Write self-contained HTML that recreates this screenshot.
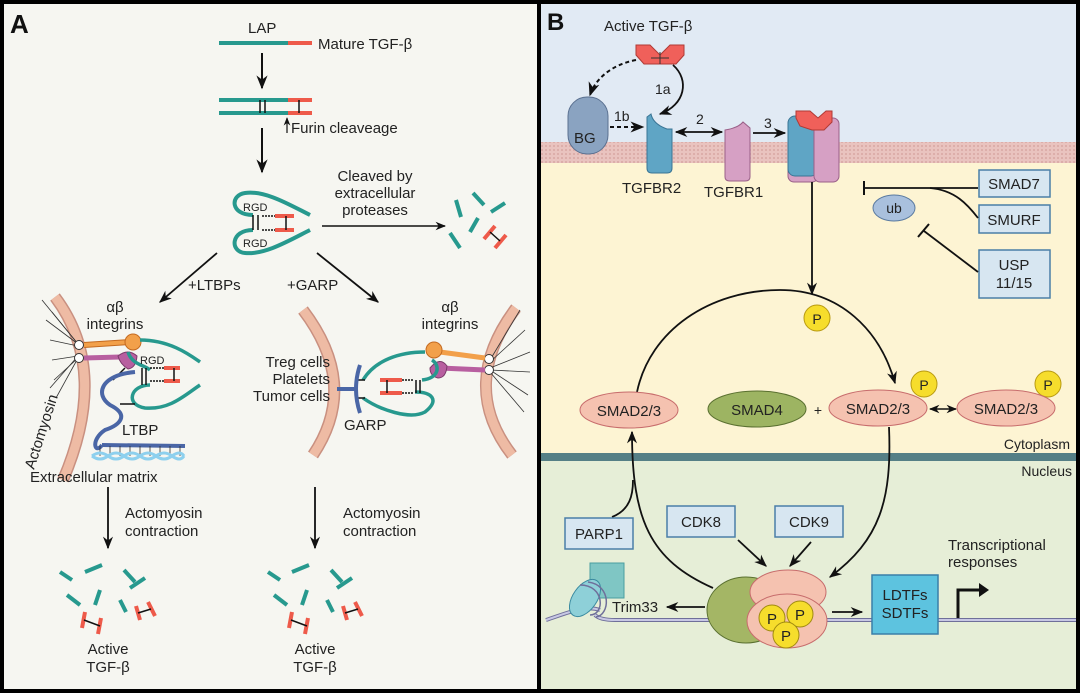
<!DOCTYPE html>
<html><head><meta charset="utf-8"><style>
html,body{margin:0;padding:0;background:#000}
svg{display:block}
text{font-family:"Liberation Sans",sans-serif;fill:#222}
</style></head><body>
<svg width="1080" height="693" viewBox="0 0 1080 693" xmlns="http://www.w3.org/2000/svg">
<defs>
<marker id="ah" viewBox="0 0 10 10" refX="9" refY="5" markerWidth="7" markerHeight="7" orient="auto-start-reverse"><path d="M0,1 L10,5 L0,9 L3,5z" fill="#111"/></marker>
<pattern id="mem" width="4" height="4" patternUnits="userSpaceOnUse"><rect width="4" height="4" fill="#e9c3bf"/><circle cx="2" cy="2" r="1" fill="#d9a7a4"/></pattern>
</defs>
<rect width="1080" height="693" fill="#000"/>
<rect x="4" y="4" width="533" height="685" fill="#f6f6f1"/>
<rect x="541" y="4" width="535" height="138" fill="#e1eaf4"/>
<rect x="541" y="142" width="535" height="21" fill="url(#mem)"/>
<rect x="541" y="163" width="535" height="290" fill="#fdf4d3"/>
<rect x="541" y="453" width="535" height="8" fill="#557f86"/>
<rect x="541" y="461" width="535" height="228" fill="#e6eed7"/>

<!-- ===== Panel A ===== -->
<text x="10" y="33" font-size="26" font-weight="bold" style="fill:#111">A</text>
<text x="248" y="33" font-size="15">LAP</text>
<line x1="219" y1="43" x2="288" y2="43" stroke="#27998e" stroke-width="4"/>
<line x1="288" y1="43" x2="312" y2="43" stroke="#ee5a4a" stroke-width="4"/>
<text x="318" y="49" font-size="15">Mature TGF-β</text>
<line x1="262" y1="53" x2="262" y2="88" stroke="#111" stroke-width="2" marker-end="url(#ah)"/>
<line x1="219" y1="100" x2="288" y2="100" stroke="#27998e" stroke-width="4"/>
<line x1="288" y1="100" x2="312" y2="100" stroke="#ee5a4a" stroke-width="4"/>
<line x1="219" y1="113" x2="288" y2="113" stroke="#27998e" stroke-width="4"/>
<line x1="288" y1="113" x2="312" y2="113" stroke="#ee5a4a" stroke-width="4"/>
<line x1="260" y1="100" x2="260" y2="113" stroke="#111" stroke-width="1.5"/>
<line x1="265" y1="100" x2="265" y2="113" stroke="#111" stroke-width="1.5"/>
<line x1="299" y1="100" x2="299" y2="113" stroke="#111" stroke-width="1.5"/>
<line x1="287" y1="133" x2="287" y2="118" stroke="#111" stroke-width="1.2" marker-end="url(#ah)"/>
<text x="291" y="133" font-size="15">Furin cleaveage</text>
<line x1="262" y1="128" x2="262" y2="172" stroke="#111" stroke-width="2" marker-end="url(#ah)"/>
<path d="M253,215 C230,215 230,195 245,193 C265,190 290,205 310,215" fill="none" stroke="#27998e" stroke-width="4"/>
<path d="M253,230 C230,230 230,252 245,253 C265,255 290,240 310,230" fill="none" stroke="#27998e" stroke-width="4"/>
<text x="243" y="211" font-size="11">RGD</text>
<text x="243" y="247" font-size="11">RGD</text>
<line x1="253" y1="215" x2="253" y2="230" stroke="#111" stroke-width="1.5"/>
<line x1="258" y1="215" x2="258" y2="230" stroke="#111" stroke-width="1.5"/>
<line x1="262" y1="216" x2="275" y2="216" stroke="#111" stroke-width="1.5" stroke-dasharray="2,1"/>
<line x1="262" y1="230" x2="275" y2="230" stroke="#111" stroke-width="1.5" stroke-dasharray="2,1"/>
<line x1="275" y1="216" x2="294" y2="216" stroke="#ee5a4a" stroke-width="4"/>
<line x1="275" y1="230" x2="294" y2="230" stroke="#ee5a4a" stroke-width="4"/>
<line x1="286" y1="216" x2="286" y2="230" stroke="#111" stroke-width="1.5"/>
<text x="375" y="181" font-size="15" text-anchor="middle">Cleaved by</text>
<text x="375" y="198" font-size="15" text-anchor="middle">extracellular</text>
<text x="375" y="215" font-size="15" text-anchor="middle">proteases</text>
<line x1="322" y1="226" x2="445" y2="226" stroke="#111" stroke-width="1.5" marker-end="url(#ah)"/>
<g stroke="#27998e" stroke-width="4"><line x1="456" y1="200" x2="461" y2="217"/><line x1="473" y1="193" x2="484" y2="205"/><line x1="491" y1="212" x2="505" y2="203"/><line x1="478" y1="218" x2="470" y2="232"/><line x1="450" y1="233" x2="460" y2="248"/></g>
<g stroke="#ee5a4a" stroke-width="4"><line x1="484" y1="239" x2="495" y2="226"/><line x1="495" y1="248" x2="506" y2="235"/></g>
<line x1="490" y1="232" x2="500" y2="241" stroke="#111" stroke-width="1.5"/>
<line x1="217" y1="253" x2="160" y2="302" stroke="#111" stroke-width="1.8" marker-end="url(#ah)"/>
<line x1="317" y1="253" x2="378" y2="302" stroke="#111" stroke-width="1.8" marker-end="url(#ah)"/>
<text x="188" y="290" font-size="15">+LTBPs</text>
<text x="287" y="290" font-size="15">+GARP</text>
<!-- left complex -->
<path d="M55,297 Q110,370 63,480" fill="none" stroke="#c99080" stroke-width="12"/>
<path d="M55,297 Q110,370 63,480" fill="none" stroke="#eebba4" stroke-width="9"/>
<g stroke="#333" stroke-width="0.8">
<line x1="78" y1="344" x2="42" y2="300"/><line x1="78" y1="344" x2="46" y2="320"/><line x1="78" y1="346" x2="50" y2="340"/><line x1="78" y1="356" x2="52" y2="360"/><line x1="78" y1="358" x2="54" y2="380"/><line x1="78" y1="358" x2="56" y2="398"/><line x1="78" y1="344" x2="52" y2="312"/><line x1="78" y1="356" x2="50" y2="388"/>
</g>
<circle cx="79" cy="345" r="4.5" fill="#fff" stroke="#333"/>
<circle cx="79" cy="358" r="4.5" fill="#fff" stroke="#333"/>
<text x="115" y="312" font-size="15" text-anchor="middle">αβ</text>
<text x="115" y="329" font-size="15" text-anchor="middle">integrins</text>
<line x1="84" y1="345" x2="130" y2="342" stroke="#c46a20" stroke-width="6"/>
<line x1="84" y1="345" x2="130" y2="342" stroke="#f2a04a" stroke-width="4"/>
<circle cx="133" cy="342" r="8" fill="#f2a04a" stroke="#c46a20"/>
<line x1="84" y1="358" x2="120" y2="357" stroke="#b85fa0" stroke-width="5"/>
<path d="M118,356 Q128,348 137,356 Q136,368 128,369 Q120,364 118,356z" fill="#b85fa0" stroke="#7a3a6a"/>
<path d="M140,340 C170,340 190,355 200,362" fill="none" stroke="#27998e" stroke-width="3.5"/>
<path d="M128,352 C132,365 145,365 150,370" fill="none" stroke="#27998e" stroke-width="3.5"/>
<path d="M150,385 C130,385 125,405 145,408 C170,410 185,395 200,385" fill="none" stroke="#27998e" stroke-width="3.5"/>
<text x="140" y="364" font-size="11">RGD</text>
<line x1="142" y1="368" x2="142" y2="385" stroke="#111" stroke-width="1.5"/><line x1="146" y1="368" x2="146" y2="385" stroke="#111" stroke-width="1.5"/>
<line x1="150" y1="368" x2="164" y2="368" stroke="#111" stroke-width="1.5" stroke-dasharray="2,1"/>
<line x1="150" y1="381" x2="164" y2="381" stroke="#111" stroke-width="1.5" stroke-dasharray="2,1"/>
<line x1="164" y1="368" x2="180" y2="368" stroke="#ee5a4a" stroke-width="4"/>
<line x1="164" y1="381" x2="180" y2="381" stroke="#ee5a4a" stroke-width="4"/>
<line x1="174" y1="368" x2="174" y2="381" stroke="#111" stroke-width="1.5"/>
<line x1="125" y1="368" x2="113" y2="380" stroke="#111" stroke-width="1.5"/>
<line x1="120" y1="404" x2="135" y2="404" stroke="#111" stroke-width="1.5"/>
<path d="M135,372 C100,375 95,395 110,405 C130,415 120,425 105,430 C90,440 95,455 102,445" fill="none" stroke="#4a66a6" stroke-width="4"/>
<path d="M102,445 L185,446" stroke="#4a66a6" stroke-width="4"/>
<text x="122" y="435" font-size="15">LTBP</text>
<g stroke="#333" stroke-width="0.8"><line x1="100" y1="446" x2="100" y2="456"/><line x1="110" y1="446" x2="110" y2="456"/><line x1="120" y1="446" x2="120" y2="456"/><line x1="130" y1="446" x2="130" y2="456"/><line x1="140" y1="446" x2="140" y2="456"/><line x1="150" y1="446" x2="150" y2="456"/><line x1="160" y1="446" x2="160" y2="456"/><line x1="170" y1="446" x2="170" y2="456"/><line x1="180" y1="446" x2="180" y2="456"/></g>
<path d="M92,456 q8,-6 16,0 t16,0 t16,0 t16,0 t16,0 t12,0" fill="none" stroke="#8dd0ee" stroke-width="3"/>
<path d="M92,456 q8,6 16,0 t16,0 t16,0 t16,0 t16,0 t12,0" fill="none" stroke="#8dd0ee" stroke-width="3"/>
<text x="30" y="482" font-size="15">Extracellular matrix</text>
<text transform="translate(34,470) rotate(-72)" font-size="15">Actomyosin</text>
<!-- right complex -->
<path d="M303,310 Q360,385 313,455" fill="none" stroke="#c99080" stroke-width="12"/>
<path d="M303,310 Q360,385 313,455" fill="none" stroke="#eebba4" stroke-width="9"/>
<path d="M516,308 Q458,385 512,455" fill="none" stroke="#c99080" stroke-width="12"/>
<path d="M516,308 Q458,385 512,455" fill="none" stroke="#eebba4" stroke-width="9"/>
<g stroke="#333" stroke-width="0.8"><line x1="490" y1="360" x2="520" y2="310"/><line x1="490" y1="362" x2="525" y2="330"/><line x1="490" y1="368" x2="530" y2="352"/><line x1="490" y1="370" x2="530" y2="372"/><line x1="490" y1="370" x2="528" y2="395"/><line x1="490" y1="372" x2="524" y2="412"/></g>
<circle cx="489" cy="359" r="4.5" fill="#fff" stroke="#333"/>
<circle cx="489" cy="370" r="4.5" fill="#fff" stroke="#333"/>
<text x="450" y="312" font-size="15" text-anchor="middle">αβ</text>
<text x="450" y="329" font-size="15" text-anchor="middle">integrins</text>
<line x1="440" y1="352" x2="485" y2="358" stroke="#f2a04a" stroke-width="5"/>
<circle cx="434" cy="350" r="8" fill="#f2a04a" stroke="#c46a20"/>
<line x1="440" y1="368" x2="485" y2="370" stroke="#b85fa0" stroke-width="5"/>
<path d="M430,368 Q440,356 447,366 Q446,378 438,378 Q430,376 430,368z" fill="#b85fa0" stroke="#7a3a6a"/>
<path d="M363,380 C375,360 400,352 425,352" fill="none" stroke="#27998e" stroke-width="3.5"/>
<path d="M422,380 C440,378 440,365 432,360" fill="none" stroke="#27998e" stroke-width="3.5"/>
<path d="M363,398 C380,410 410,420 425,412 C440,400 432,392 415,392" fill="none" stroke="#27998e" stroke-width="3.5"/>
<line x1="357" y1="380" x2="365" y2="380" stroke="#111" stroke-width="1.5"/>
<line x1="357" y1="398" x2="365" y2="398" stroke="#111" stroke-width="1.5"/>
<line x1="416" y1="380" x2="416" y2="393" stroke="#111" stroke-width="1.5"/><line x1="420" y1="380" x2="420" y2="393" stroke="#111" stroke-width="1.5"/>
<line x1="402" y1="380" x2="414" y2="380" stroke="#111" stroke-width="1.5" stroke-dasharray="2,1"/>
<line x1="402" y1="393" x2="414" y2="393" stroke="#111" stroke-width="1.5" stroke-dasharray="2,1"/>
<line x1="380" y1="380" x2="402" y2="380" stroke="#ee5a4a" stroke-width="4"/>
<line x1="380" y1="393" x2="402" y2="393" stroke="#ee5a4a" stroke-width="4"/>
<line x1="387" y1="380" x2="387" y2="393" stroke="#111" stroke-width="1.5"/>
<line x1="337" y1="389" x2="357" y2="389" stroke="#4a66a6" stroke-width="4"/>
<path d="M360,365 Q352,389 360,413" fill="none" stroke="#4a66a6" stroke-width="4"/>
<text x="330" y="367" font-size="15" text-anchor="end">Treg cells</text>
<text x="330" y="384" font-size="15" text-anchor="end">Platelets</text>
<text x="330" y="401" font-size="15" text-anchor="end">Tumor cells</text>
<text x="344" y="430" font-size="15">GARP</text>
<line x1="108" y1="487" x2="108" y2="548" stroke="#111" stroke-width="1.8" marker-end="url(#ah)"/>
<text x="125" y="518" font-size="15">Actomyosin</text><text x="125" y="536" font-size="15">contraction</text>
<line x1="315" y1="487" x2="315" y2="548" stroke="#111" stroke-width="1.8" marker-end="url(#ah)"/>
<text x="343" y="518" font-size="15">Actomyosin</text><text x="343" y="536" font-size="15">contraction</text>
<g stroke="#27998e" stroke-width="4">
<line x1="60" y1="572" x2="72" y2="580"/><line x1="85" y1="572" x2="102" y2="565"/><line x1="124" y1="570" x2="135" y2="582"/><line x1="130" y1="588" x2="145" y2="578"/><line x1="67" y1="595" x2="80" y2="605"/><line x1="100" y1="590" x2="95" y2="605"/><line x1="120" y1="600" x2="126" y2="612"/>
<line x1="268" y1="572" x2="280" y2="580"/><line x1="292" y1="572" x2="309" y2="565"/><line x1="331" y1="570" x2="342" y2="582"/><line x1="337" y1="588" x2="352" y2="578"/><line x1="274" y1="595" x2="287" y2="605"/><line x1="307" y1="590" x2="302" y2="605"/><line x1="327" y1="600" x2="333" y2="612"/>
</g>
<g stroke="#ee5a4a" stroke-width="4">
<line x1="85" y1="612" x2="82" y2="628"/><line x1="101" y1="618" x2="98" y2="634"/><line x1="136" y1="606" x2="140" y2="620"/><line x1="148" y1="602" x2="155" y2="616"/>
<line x1="292" y1="612" x2="289" y2="628"/><line x1="308" y1="618" x2="305" y2="634"/><line x1="343" y1="606" x2="347" y2="620"/><line x1="355" y1="602" x2="362" y2="616"/>
</g>
<g stroke="#111" stroke-width="1.5"><line x1="84" y1="620" x2="100" y2="626"/><line x1="138" y1="613" x2="151" y2="609"/><line x1="291" y1="620" x2="307" y2="626"/><line x1="345" y1="613" x2="358" y2="609"/></g>
<text x="108" y="654" font-size="15" text-anchor="middle">Active</text><text x="108" y="672" font-size="15" text-anchor="middle">TGF-β</text>
<text x="315" y="654" font-size="15" text-anchor="middle">Active</text><text x="315" y="672" font-size="15" text-anchor="middle">TGF-β</text>

<!-- ===== Panel B ===== -->
<text x="547" y="30" font-size="24" font-weight="bold" style="fill:#111">B</text>
<text x="604" y="31" font-size="15">Active TGF-β</text>
<path d="M636,45 L650,45 L660,55 L670,45 L684,45 L684,55 L676,64 L644,64 L636,55z" fill="#f0605a" stroke="#b03a35" stroke-width="1"/>
<line x1="651" y1="58" x2="669" y2="58" stroke="#333" stroke-width="1"/><line x1="660" y1="52" x2="660" y2="64" stroke="#333" stroke-width="1"/>
<path d="M636,60 C610,65 595,80 590,95" fill="none" stroke="#111" stroke-width="2" stroke-dasharray="4,3" marker-end="url(#ah)"/>
<path d="M673,65 C690,80 685,105 660,114" fill="none" stroke="#111" stroke-width="1.8" marker-end="url(#ah)"/>
<text x="655" y="94" font-size="14">1a</text>
<rect x="568" y="97" width="40" height="57" rx="19" fill="#8aa3c1" stroke="#5a7090"/>
<text x="574" y="143" font-size="15">BG</text>
<text x="614" y="121" font-size="14">1b</text>
<line x1="610" y1="127" x2="643" y2="127" stroke="#111" stroke-width="2" stroke-dasharray="4,3" marker-end="url(#ah)"/>
<path d="M647,117 L651,114 Q653,124 667,129 L672,129 L672,168 Q672,173 667,173 L652,173 Q647,173 647,168z" fill="#5fa5c5" stroke="#3a7595"/>
<text x="696" y="124" font-size="14">2</text>
<line x1="676" y1="132" x2="722" y2="132" stroke="#111" stroke-width="1.8" marker-start="url(#ah)" marker-end="url(#ah)"/>
<path d="M725,130 Q738,128 743,122 L750,128 L750,177 Q750,181 745,181 L730,181 Q725,181 725,177z" fill="#d6a0c4" stroke="#9a6088"/>
<text x="764" y="128" font-size="14">3</text>
<line x1="753" y1="133" x2="785" y2="133" stroke="#111" stroke-width="1.8" marker-end="url(#ah)"/>
<rect x="788" y="118" width="30" height="64" rx="6" fill="#d6a0c4" stroke="#9a6088"/>
<rect x="788" y="116" width="30" height="60" rx="7" fill="#5fa5c5" stroke="#3a7595"/>
<rect x="814" y="118" width="25" height="64" rx="6" fill="#d6a0c4" stroke="#9a6088"/>
<path d="M796,111 L810,111 L818,118 L826,111 L832,111 L832,122 L824,130 L812,130 L800,126 L796,118z" fill="#f0605a" stroke="#b03a35"/>
<text x="622" y="193" font-size="15">TGFBR2</text>
<text x="704" y="197" font-size="15">TGFBR1</text>
<line x1="812" y1="182" x2="812" y2="294" stroke="#111" stroke-width="1.8" marker-end="url(#ah)"/>
<rect x="979" y="170" width="71" height="27" fill="#d7e6f1" stroke="#4a7fa8" stroke-width="1.5"/>
<text x="1014" y="189" font-size="15" text-anchor="middle">SMAD7</text>
<rect x="979" y="205" width="71" height="28" fill="#d7e6f1" stroke="#4a7fa8" stroke-width="1.5"/>
<text x="1014" y="225" font-size="15" text-anchor="middle">SMURF</text>
<rect x="979" y="250" width="71" height="48" fill="#d7e6f1" stroke="#4a7fa8" stroke-width="1.5"/>
<text x="1014" y="270" font-size="15" text-anchor="middle">USP</text><text x="1014" y="288" font-size="15" text-anchor="middle">11/15</text>
<line x1="864" y1="188" x2="978" y2="188" stroke="#111" stroke-width="1.8"/>
<line x1="864" y1="181" x2="864" y2="195" stroke="#111" stroke-width="2"/>
<path d="M930,188 C955,190 968,205 978,218" fill="none" stroke="#111" stroke-width="1.8"/>
<ellipse cx="894" cy="208" rx="21" ry="13" fill="#a9c0dd" stroke="#5a7aa0"/>
<text x="894" y="213" font-size="14" text-anchor="middle">ub</text>
<line x1="978" y1="272" x2="924" y2="231" stroke="#111" stroke-width="1.8"/>
<line x1="918" y1="237" x2="929" y2="224" stroke="#111" stroke-width="2"/>
<path d="M637,392 C650,330 710,290 780,290 C840,290 880,330 895,383" fill="none" stroke="#111" stroke-width="1.8" marker-end="url(#ah)"/>
<circle cx="817" cy="318" r="13" fill="#f6dd2c" stroke="#b89a10"/>
<text x="817" y="324" font-size="14" text-anchor="middle">P</text>
<ellipse cx="629" cy="410" rx="49" ry="18" fill="#f5c2b0" stroke="#c76c6c"/>
<text x="629" y="416" font-size="15" text-anchor="middle">SMAD2/3</text>
<ellipse cx="757" cy="409" rx="49" ry="18" fill="#9db462" stroke="#5a7030"/>
<text x="757" y="415" font-size="15" text-anchor="middle">SMAD4</text>
<text x="818" y="415" font-size="14" text-anchor="middle">+</text>
<circle cx="924" cy="384" r="13" fill="#f6dd2c" stroke="#b89a10"/>
<text x="924" y="390" font-size="14" text-anchor="middle">P</text>
<ellipse cx="878" cy="408" rx="49" ry="18" fill="#f5c2b0" stroke="#c76c6c"/>
<text x="878" y="414" font-size="15" text-anchor="middle">SMAD2/3</text>
<line x1="930" y1="409" x2="956" y2="409" stroke="#111" stroke-width="1.5" marker-start="url(#ah)" marker-end="url(#ah)"/>
<circle cx="1048" cy="384" r="13" fill="#f6dd2c" stroke="#b89a10"/>
<text x="1048" y="390" font-size="14" text-anchor="middle">P</text>
<ellipse cx="1006" cy="408" rx="49" ry="18" fill="#f5c2b0" stroke="#c76c6c"/>
<text x="1006" y="414" font-size="15" text-anchor="middle">SMAD2/3</text>
<text x="1070" y="449" font-size="14" text-anchor="end">Cytoplasm</text>
<text x="1072" y="476" font-size="14" text-anchor="end">Nucleus</text>
<path d="M889,427 C892,500 880,540 830,577" fill="none" stroke="#111" stroke-width="1.8" marker-end="url(#ah)"/>
<path d="M713,588 C650,560 632,520 632,432" fill="none" stroke="#111" stroke-width="1.8" marker-end="url(#ah)"/>
<path d="M612,517 C630,510 633,495 633,480" fill="none" stroke="#111" stroke-width="1.8"/>
<rect x="565" y="518" width="68" height="31" fill="#d7e6f1" stroke="#4a7fa8" stroke-width="1.5"/>
<text x="599" y="539" font-size="15" text-anchor="middle">PARP1</text>
<rect x="667" y="506" width="68" height="31" fill="#d7e6f1" stroke="#4a7fa8" stroke-width="1.5"/>
<text x="701" y="527" font-size="15" text-anchor="middle">CDK8</text>
<rect x="775" y="506" width="68" height="31" fill="#d7e6f1" stroke="#4a7fa8" stroke-width="1.5"/>
<text x="809" y="527" font-size="15" text-anchor="middle">CDK9</text>
<line x1="738" y1="540" x2="766" y2="566" stroke="#111" stroke-width="1.8" marker-end="url(#ah)"/>
<line x1="811" y1="542" x2="790" y2="566" stroke="#111" stroke-width="1.8" marker-end="url(#ah)"/>
<path d="M546,620 C570,612 585,605 600,610" fill="none" stroke="#6f6f9a" stroke-width="4"/>
<path d="M546,620 C570,612 585,605 600,610" fill="none" stroke="#c8c8e4" stroke-width="2"/>
<path d="M595,615 Q600,620 615,620 L1076,620" fill="none" stroke="#6f6f9a" stroke-width="4"/>
<path d="M595,615 Q600,620 615,620 L1076,620" fill="none" stroke="#c8c8e4" stroke-width="2"/>
<rect x="590" y="563" width="34" height="35" fill="#7fc6c4" stroke="#4a9ea0"/>
<ellipse cx="585" cy="598" rx="12" ry="21" transform="rotate(35 585 598)" fill="#8ed0d8" stroke="#3a8aa0"/>
<path d="M580,585 C605,585 605,615 590,615 M588,582 C612,585 610,615 596,617" fill="none" stroke="#6f6f9a" stroke-width="1.5"/>
<text x="612" y="612" font-size="15">Trim33</text>
<line x1="705" y1="607" x2="667" y2="607" stroke="#111" stroke-width="1.8" marker-end="url(#ah)"/>
<ellipse cx="746" cy="610" rx="39" ry="33" fill="#a4b665" stroke="#5a7030"/>
<ellipse cx="788" cy="592" rx="38" ry="22" fill="#f5c2b0" stroke="#c76c6c"/>
<ellipse cx="787" cy="621" rx="40" ry="27" fill="#f5c2b0" stroke="#c76c6c"/>
<circle cx="772" cy="618" r="13" fill="#f6dd2c" stroke="#a08a10"/>
<circle cx="800" cy="614" r="13" fill="#f6dd2c" stroke="#a08a10"/>
<circle cx="786" cy="635" r="13" fill="#f6dd2c" stroke="#a08a10"/>
<text x="772" y="624" font-size="15" text-anchor="middle">P</text>
<text x="800" y="620" font-size="15" text-anchor="middle">P</text>
<text x="786" y="641" font-size="15" text-anchor="middle">P</text>
<line x1="832" y1="612" x2="862" y2="612" stroke="#111" stroke-width="1.8" marker-end="url(#ah)"/>
<rect x="872" y="575" width="66" height="59" fill="#5dc3df" stroke="#3a7fa8" stroke-width="1.5"/>
<text x="905" y="600" font-size="15" text-anchor="middle">LDTFs</text>
<text x="905" y="618" font-size="15" text-anchor="middle">SDTFs</text>
<text x="948" y="550" font-size="15">Transcriptional</text>
<text x="948" y="567" font-size="15">responses</text>
<path d="M958,618 L958,590 L980,590" fill="none" stroke="#111" stroke-width="3"/>
<path d="M979,583 L989,590 L979,597z" fill="#111"/>
</svg>
</body></html>
